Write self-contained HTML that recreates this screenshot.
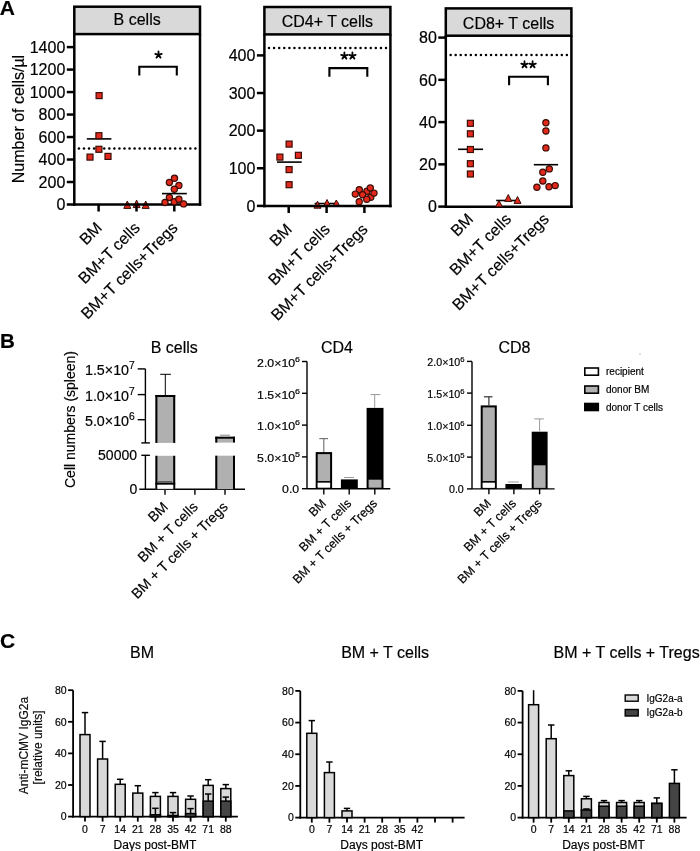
<!DOCTYPE html>
<html><head><meta charset="utf-8"><style>
html,body{margin:0;padding:0;background:#fff;width:700px;height:851px;overflow:hidden}
svg{display:block;will-change:transform}
text{font-family:"Liberation Sans", sans-serif;stroke:#000;stroke-width:0.18px}
</style></head><body>
<svg width="700" height="851" viewBox="0 0 700 851">
<rect x="0" y="0" width="700" height="851" fill="#fff"/>
<text x="-0.2" y="15.2" font-size="21" text-anchor="start" font-weight="bold" fill="#000">A</text>
<text x="24" y="119" font-size="16" text-anchor="middle" font-weight="normal" fill="#000" transform="rotate(-90 24 119)">Number of cells/µl</text>
<polygon points="127.3,201 123.8,208.4 130.8,208.4" fill="#e2291c" stroke="#3a0d05" stroke-width="1" stroke-linejoin="miter"/>
<polygon points="136.6,200.1 133.1,207.6 140.1,207.6" fill="#e2291c" stroke="#3a0d05" stroke-width="1" stroke-linejoin="miter"/>
<polygon points="145.7,201 142.2,208.4 149.2,208.4" fill="#e2291c" stroke="#3a0d05" stroke-width="1" stroke-linejoin="miter"/>
<rect x="74.3" y="6.7" width="125.7" height="27.400000000000002" fill="#d9d9d9" stroke="#000" stroke-width="2.5"/>
<text x="137.15" y="25.200000000000003" font-size="16" text-anchor="middle" font-weight="normal" fill="#000">B cells</text>
<line x1="74.3" y1="34.1" x2="74.3" y2="205.75" stroke="#000" stroke-width="2.5" stroke-linecap="butt"/>
<line x1="200" y1="34.1" x2="200" y2="205.75" stroke="#000" stroke-width="2.5" stroke-linecap="butt"/>
<line x1="73.05" y1="204.5" x2="201.25" y2="204.5" stroke="#000" stroke-width="2.5" stroke-linecap="butt"/>
<line x1="66.8" y1="204.5" x2="74.3" y2="204.5" stroke="#000" stroke-width="2.5" stroke-linecap="butt"/>
<text x="65.3" y="210.2" font-size="16" text-anchor="end" font-weight="normal" fill="#000">0</text>
<line x1="66.8" y1="182.014" x2="74.3" y2="182.014" stroke="#000" stroke-width="2.5" stroke-linecap="butt"/>
<text x="65.3" y="187.714" font-size="16" text-anchor="end" font-weight="normal" fill="#000">200</text>
<line x1="66.8" y1="159.528" x2="74.3" y2="159.528" stroke="#000" stroke-width="2.5" stroke-linecap="butt"/>
<text x="65.3" y="165.22799999999998" font-size="16" text-anchor="end" font-weight="normal" fill="#000">400</text>
<line x1="66.8" y1="137.042" x2="74.3" y2="137.042" stroke="#000" stroke-width="2.5" stroke-linecap="butt"/>
<text x="65.3" y="142.742" font-size="16" text-anchor="end" font-weight="normal" fill="#000">600</text>
<line x1="66.8" y1="114.556" x2="74.3" y2="114.556" stroke="#000" stroke-width="2.5" stroke-linecap="butt"/>
<text x="65.3" y="120.256" font-size="16" text-anchor="end" font-weight="normal" fill="#000">800</text>
<line x1="66.8" y1="92.07" x2="74.3" y2="92.07" stroke="#000" stroke-width="2.5" stroke-linecap="butt"/>
<text x="65.3" y="97.77" font-size="16" text-anchor="end" font-weight="normal" fill="#000">1000</text>
<line x1="66.8" y1="69.584" x2="74.3" y2="69.584" stroke="#000" stroke-width="2.5" stroke-linecap="butt"/>
<text x="65.3" y="75.284" font-size="16" text-anchor="end" font-weight="normal" fill="#000">1200</text>
<line x1="66.8" y1="47.097999999999985" x2="74.3" y2="47.097999999999985" stroke="#000" stroke-width="2.5" stroke-linecap="butt"/>
<text x="65.3" y="52.79799999999999" font-size="16" text-anchor="end" font-weight="normal" fill="#000">1400</text>
<line x1="98.6" y1="204.5" x2="98.6" y2="211.5" stroke="#000" stroke-width="2.5" stroke-linecap="butt"/>
<line x1="136.5" y1="204.5" x2="136.5" y2="211.5" stroke="#000" stroke-width="2.5" stroke-linecap="butt"/>
<line x1="174.3" y1="204.5" x2="174.3" y2="211.5" stroke="#000" stroke-width="2.5" stroke-linecap="butt"/>
<text x="103.0" y="228.8" font-size="16" text-anchor="end" font-weight="normal" fill="#000" transform="rotate(-45 103.0 228.8)">BM</text>
<text x="140.89999999999998" y="228.8" font-size="16" text-anchor="end" font-weight="normal" fill="#000" transform="rotate(-45 140.89999999999998 228.8)">BM+T cells</text>
<text x="178.7" y="228.8" font-size="16" text-anchor="end" font-weight="normal" fill="#000" transform="rotate(-45 178.7 228.8)">BM+T cells+Tregs</text>
<circle cx="78.90" cy="148.6" r="1.25" fill="#000"/>
<circle cx="83.97" cy="148.6" r="1.25" fill="#000"/>
<circle cx="89.03" cy="148.6" r="1.25" fill="#000"/>
<circle cx="94.10" cy="148.6" r="1.25" fill="#000"/>
<circle cx="99.16" cy="148.6" r="1.25" fill="#000"/>
<circle cx="104.23" cy="148.6" r="1.25" fill="#000"/>
<circle cx="109.29" cy="148.6" r="1.25" fill="#000"/>
<circle cx="114.36" cy="148.6" r="1.25" fill="#000"/>
<circle cx="119.42" cy="148.6" r="1.25" fill="#000"/>
<circle cx="124.49" cy="148.6" r="1.25" fill="#000"/>
<circle cx="129.55" cy="148.6" r="1.25" fill="#000"/>
<circle cx="134.62" cy="148.6" r="1.25" fill="#000"/>
<circle cx="139.68" cy="148.6" r="1.25" fill="#000"/>
<circle cx="144.75" cy="148.6" r="1.25" fill="#000"/>
<circle cx="149.81" cy="148.6" r="1.25" fill="#000"/>
<circle cx="154.88" cy="148.6" r="1.25" fill="#000"/>
<circle cx="159.94" cy="148.6" r="1.25" fill="#000"/>
<circle cx="165.01" cy="148.6" r="1.25" fill="#000"/>
<circle cx="170.07" cy="148.6" r="1.25" fill="#000"/>
<circle cx="175.14" cy="148.6" r="1.25" fill="#000"/>
<circle cx="180.20" cy="148.6" r="1.25" fill="#000"/>
<circle cx="185.27" cy="148.6" r="1.25" fill="#000"/>
<circle cx="190.33" cy="148.6" r="1.25" fill="#000"/>
<circle cx="195.40" cy="148.6" r="1.25" fill="#000"/>
<line x1="86.8" y1="138.9" x2="111.4" y2="138.9" stroke="#000" stroke-width="1.6" stroke-linecap="butt"/>
<rect x="96.1" y="92.6" width="6.0" height="6.0" fill="#e2291c" stroke="#3a0d05" stroke-width="1.2"/>
<rect x="95.9" y="132.7" width="6.0" height="6.0" fill="#e2291c" stroke="#3a0d05" stroke-width="1.2"/>
<rect x="95.9" y="146.3" width="6.0" height="6.0" fill="#e2291c" stroke="#3a0d05" stroke-width="1.2"/>
<rect x="87.0" y="154.1" width="6.0" height="6.0" fill="#e2291c" stroke="#3a0d05" stroke-width="1.2"/>
<rect x="105.0" y="153.4" width="6.0" height="6.0" fill="#e2291c" stroke="#3a0d05" stroke-width="1.2"/>
<circle cx="174.5" cy="178.2" r="3.1" fill="#e2291c" stroke="#3a0d05" stroke-width="1.2"/>
<circle cx="169.4" cy="182.5" r="3.1" fill="#e2291c" stroke="#3a0d05" stroke-width="1.2"/>
<circle cx="178.9" cy="185.4" r="3.1" fill="#e2291c" stroke="#3a0d05" stroke-width="1.2"/>
<circle cx="174.3" cy="189.3" r="3.1" fill="#e2291c" stroke="#3a0d05" stroke-width="1.2"/>
<circle cx="169.4" cy="197.5" r="3.1" fill="#e2291c" stroke="#3a0d05" stroke-width="1.2"/>
<circle cx="165" cy="202.5" r="3.1" fill="#e2291c" stroke="#3a0d05" stroke-width="1.2"/>
<circle cx="174.3" cy="201.8" r="3.1" fill="#e2291c" stroke="#3a0d05" stroke-width="1.2"/>
<circle cx="178.9" cy="199.3" r="3.1" fill="#e2291c" stroke="#3a0d05" stroke-width="1.2"/>
<circle cx="183.6" cy="203.9" r="3.1" fill="#e2291c" stroke="#3a0d05" stroke-width="1.2"/>
<line x1="162" y1="193.6" x2="186.8" y2="193.6" stroke="#000" stroke-width="1.6" stroke-linecap="butt"/>
<polyline points="139.3,75.6 139.3,66.7 176.8,66.7 176.8,75.6" fill="none" stroke="#000" stroke-width="2.1"/>
<path d="M158.50,54.90L158.50,51.50M158.50,54.90L161.73,53.85M158.50,54.90L160.50,57.65M158.50,54.90L156.50,57.65M158.50,54.90L155.27,53.85" stroke="#000" stroke-width="1.8" stroke-linecap="round" fill="none"/>
<line x1="314.6" y1="203.5" x2="338.6" y2="203.5" stroke="#000" stroke-width="1.5" stroke-linecap="butt"/>
<polygon points="317.5,201.2 314.0,208.2 321.0,208.2" fill="#e2291c" stroke="#3a0d05" stroke-width="1" stroke-linejoin="miter"/>
<polygon points="327,199.5 323.5,206.3 330.5,206.3" fill="#e2291c" stroke="#3a0d05" stroke-width="1" stroke-linejoin="miter"/>
<polygon points="336.3,200 332.8,206.3 339.8,206.3" fill="#e2291c" stroke="#3a0d05" stroke-width="1" stroke-linejoin="miter"/>
<rect x="264.4" y="7" width="126.0" height="27.4" fill="#d9d9d9" stroke="#000" stroke-width="2.5"/>
<text x="327.4" y="26.5" font-size="16" text-anchor="middle" font-weight="normal" fill="#000">CD4+ T cells</text>
<line x1="264.4" y1="34.4" x2="264.4" y2="207.25" stroke="#000" stroke-width="2.5" stroke-linecap="butt"/>
<line x1="390.4" y1="34.4" x2="390.4" y2="207.25" stroke="#000" stroke-width="2.5" stroke-linecap="butt"/>
<line x1="263.15" y1="206" x2="391.65" y2="206" stroke="#000" stroke-width="2.5" stroke-linecap="butt"/>
<line x1="256.9" y1="205.9" x2="264.4" y2="205.9" stroke="#000" stroke-width="2.5" stroke-linecap="butt"/>
<text x="255.39999999999998" y="211.6" font-size="16" text-anchor="end" font-weight="normal" fill="#000">0</text>
<line x1="256.9" y1="168.275" x2="264.4" y2="168.275" stroke="#000" stroke-width="2.5" stroke-linecap="butt"/>
<text x="255.39999999999998" y="173.975" font-size="16" text-anchor="end" font-weight="normal" fill="#000">100</text>
<line x1="256.9" y1="130.65" x2="264.4" y2="130.65" stroke="#000" stroke-width="2.5" stroke-linecap="butt"/>
<text x="255.39999999999998" y="136.35" font-size="16" text-anchor="end" font-weight="normal" fill="#000">200</text>
<line x1="256.9" y1="93.025" x2="264.4" y2="93.025" stroke="#000" stroke-width="2.5" stroke-linecap="butt"/>
<text x="255.39999999999998" y="98.72500000000001" font-size="16" text-anchor="end" font-weight="normal" fill="#000">300</text>
<line x1="256.9" y1="55.400000000000006" x2="264.4" y2="55.400000000000006" stroke="#000" stroke-width="2.5" stroke-linecap="butt"/>
<text x="255.39999999999998" y="61.10000000000001" font-size="16" text-anchor="end" font-weight="normal" fill="#000">400</text>
<line x1="288.7" y1="206" x2="288.7" y2="213" stroke="#000" stroke-width="2.5" stroke-linecap="butt"/>
<line x1="326.59999999999997" y1="206" x2="326.59999999999997" y2="213" stroke="#000" stroke-width="2.5" stroke-linecap="butt"/>
<line x1="364.4" y1="206" x2="364.4" y2="213" stroke="#000" stroke-width="2.5" stroke-linecap="butt"/>
<text x="292.9" y="230.3" font-size="16" text-anchor="end" font-weight="normal" fill="#000" transform="rotate(-45 292.9 230.3)">BM</text>
<text x="330.79999999999995" y="230.3" font-size="16" text-anchor="end" font-weight="normal" fill="#000" transform="rotate(-45 330.79999999999995 230.3)">BM+T cells</text>
<text x="368.59999999999997" y="230.3" font-size="16" text-anchor="end" font-weight="normal" fill="#000" transform="rotate(-45 368.59999999999997 230.3)">BM+T cells+Tregs</text>
<circle cx="269.00" cy="48" r="1.25" fill="#000"/>
<circle cx="274.09" cy="48" r="1.25" fill="#000"/>
<circle cx="279.17" cy="48" r="1.25" fill="#000"/>
<circle cx="284.26" cy="48" r="1.25" fill="#000"/>
<circle cx="289.35" cy="48" r="1.25" fill="#000"/>
<circle cx="294.43" cy="48" r="1.25" fill="#000"/>
<circle cx="299.52" cy="48" r="1.25" fill="#000"/>
<circle cx="304.61" cy="48" r="1.25" fill="#000"/>
<circle cx="309.70" cy="48" r="1.25" fill="#000"/>
<circle cx="314.78" cy="48" r="1.25" fill="#000"/>
<circle cx="319.87" cy="48" r="1.25" fill="#000"/>
<circle cx="324.96" cy="48" r="1.25" fill="#000"/>
<circle cx="330.04" cy="48" r="1.25" fill="#000"/>
<circle cx="335.13" cy="48" r="1.25" fill="#000"/>
<circle cx="340.22" cy="48" r="1.25" fill="#000"/>
<circle cx="345.30" cy="48" r="1.25" fill="#000"/>
<circle cx="350.39" cy="48" r="1.25" fill="#000"/>
<circle cx="355.48" cy="48" r="1.25" fill="#000"/>
<circle cx="360.57" cy="48" r="1.25" fill="#000"/>
<circle cx="365.65" cy="48" r="1.25" fill="#000"/>
<circle cx="370.74" cy="48" r="1.25" fill="#000"/>
<circle cx="375.83" cy="48" r="1.25" fill="#000"/>
<circle cx="380.91" cy="48" r="1.25" fill="#000"/>
<circle cx="386.00" cy="48" r="1.25" fill="#000"/>
<line x1="277" y1="162.1" x2="301.7" y2="162.1" stroke="#000" stroke-width="1.6" stroke-linecap="butt"/>
<rect x="286.1" y="141.1" width="6.0" height="6.0" fill="#e2291c" stroke="#3a0d05" stroke-width="1.2"/>
<rect x="276.9" y="154.1" width="6.0" height="6.0" fill="#e2291c" stroke="#3a0d05" stroke-width="1.2"/>
<rect x="295.4" y="152.3" width="6.0" height="6.0" fill="#e2291c" stroke="#3a0d05" stroke-width="1.2"/>
<rect x="286.1" y="166.6" width="6.0" height="6.0" fill="#e2291c" stroke="#3a0d05" stroke-width="1.2"/>
<rect x="286.1" y="181.7" width="6.0" height="6.0" fill="#e2291c" stroke="#3a0d05" stroke-width="1.2"/>
<circle cx="366.9" cy="191.2" r="3.1" fill="#e2291c" stroke="#3a0d05" stroke-width="1.2"/>
<circle cx="370.8" cy="197.2" r="3.1" fill="#e2291c" stroke="#3a0d05" stroke-width="1.2"/>
<circle cx="374" cy="193.1" r="3.1" fill="#e2291c" stroke="#3a0d05" stroke-width="1.2"/>
<circle cx="370.3" cy="188" r="3.1" fill="#e2291c" stroke="#3a0d05" stroke-width="1.2"/>
<circle cx="359.3" cy="189.7" r="3.1" fill="#e2291c" stroke="#3a0d05" stroke-width="1.2"/>
<circle cx="362.6" cy="194.8" r="3.1" fill="#e2291c" stroke="#3a0d05" stroke-width="1.2"/>
<circle cx="355.3" cy="194.1" r="3.1" fill="#e2291c" stroke="#3a0d05" stroke-width="1.2"/>
<circle cx="366.7" cy="199.2" r="3.1" fill="#e2291c" stroke="#3a0d05" stroke-width="1.2"/>
<circle cx="359.2" cy="201.8" r="3.1" fill="#e2291c" stroke="#3a0d05" stroke-width="1.2"/>
<polyline points="329.4,76.8 329.4,68.1 367.3,68.1 367.3,76.8" fill="none" stroke="#000" stroke-width="2.1"/>
<path d="M344.40,55.90L344.40,52.50M344.40,55.90L347.63,54.85M344.40,55.90L346.40,58.65M344.40,55.90L342.40,58.65M344.40,55.90L341.17,54.85" stroke="#000" stroke-width="1.8" stroke-linecap="round" fill="none"/>
<path d="M352.40,55.90L352.40,52.50M352.40,55.90L355.63,54.85M352.40,55.90L354.40,58.65M352.40,55.90L350.40,58.65M352.40,55.90L349.17,54.85" stroke="#000" stroke-width="1.8" stroke-linecap="round" fill="none"/>
<rect x="445.8" y="8.4" width="125.59999999999997" height="27.300000000000004" fill="#d9d9d9" stroke="#000" stroke-width="2.5"/>
<text x="508.6" y="29.050000000000004" font-size="16" text-anchor="middle" font-weight="normal" fill="#000">CD8+ T cells</text>
<line x1="445.8" y1="35.7" x2="445.8" y2="207.95" stroke="#000" stroke-width="2.5" stroke-linecap="butt"/>
<line x1="571.4" y1="35.7" x2="571.4" y2="207.95" stroke="#000" stroke-width="2.5" stroke-linecap="butt"/>
<line x1="444.55" y1="206.7" x2="572.65" y2="206.7" stroke="#000" stroke-width="2.5" stroke-linecap="butt"/>
<line x1="438.3" y1="206.6" x2="445.8" y2="206.6" stroke="#000" stroke-width="2.5" stroke-linecap="butt"/>
<text x="436.8" y="212.29999999999998" font-size="16" text-anchor="end" font-weight="normal" fill="#000">0</text>
<line x1="438.3" y1="164.35" x2="445.8" y2="164.35" stroke="#000" stroke-width="2.5" stroke-linecap="butt"/>
<text x="436.8" y="170.04999999999998" font-size="16" text-anchor="end" font-weight="normal" fill="#000">20</text>
<line x1="438.3" y1="122.1" x2="445.8" y2="122.1" stroke="#000" stroke-width="2.5" stroke-linecap="butt"/>
<text x="436.8" y="127.8" font-size="16" text-anchor="end" font-weight="normal" fill="#000">40</text>
<line x1="438.3" y1="79.85" x2="445.8" y2="79.85" stroke="#000" stroke-width="2.5" stroke-linecap="butt"/>
<text x="436.8" y="85.55" font-size="16" text-anchor="end" font-weight="normal" fill="#000">60</text>
<line x1="438.3" y1="37.599999999999994" x2="445.8" y2="37.599999999999994" stroke="#000" stroke-width="2.5" stroke-linecap="butt"/>
<text x="436.8" y="43.3" font-size="16" text-anchor="end" font-weight="normal" fill="#000">80</text>
<text x="474.3" y="220.2" font-size="16" text-anchor="end" font-weight="normal" fill="#000" transform="rotate(-45 474.3 220.2)">BM</text>
<text x="512.2" y="220.2" font-size="16" text-anchor="end" font-weight="normal" fill="#000" transform="rotate(-45 512.2 220.2)">BM+T cells</text>
<text x="550.0" y="220.2" font-size="16" text-anchor="end" font-weight="normal" fill="#000" transform="rotate(-45 550.0 220.2)">BM+T cells+Tregs</text>
<circle cx="450.60" cy="54.9" r="1.25" fill="#000"/>
<circle cx="455.66" cy="54.9" r="1.25" fill="#000"/>
<circle cx="460.71" cy="54.9" r="1.25" fill="#000"/>
<circle cx="465.77" cy="54.9" r="1.25" fill="#000"/>
<circle cx="470.83" cy="54.9" r="1.25" fill="#000"/>
<circle cx="475.88" cy="54.9" r="1.25" fill="#000"/>
<circle cx="480.94" cy="54.9" r="1.25" fill="#000"/>
<circle cx="486.00" cy="54.9" r="1.25" fill="#000"/>
<circle cx="491.05" cy="54.9" r="1.25" fill="#000"/>
<circle cx="496.11" cy="54.9" r="1.25" fill="#000"/>
<circle cx="501.17" cy="54.9" r="1.25" fill="#000"/>
<circle cx="506.22" cy="54.9" r="1.25" fill="#000"/>
<circle cx="511.28" cy="54.9" r="1.25" fill="#000"/>
<circle cx="516.33" cy="54.9" r="1.25" fill="#000"/>
<circle cx="521.39" cy="54.9" r="1.25" fill="#000"/>
<circle cx="526.45" cy="54.9" r="1.25" fill="#000"/>
<circle cx="531.50" cy="54.9" r="1.25" fill="#000"/>
<circle cx="536.56" cy="54.9" r="1.25" fill="#000"/>
<circle cx="541.62" cy="54.9" r="1.25" fill="#000"/>
<circle cx="546.67" cy="54.9" r="1.25" fill="#000"/>
<circle cx="551.73" cy="54.9" r="1.25" fill="#000"/>
<circle cx="556.79" cy="54.9" r="1.25" fill="#000"/>
<circle cx="561.84" cy="54.9" r="1.25" fill="#000"/>
<circle cx="566.90" cy="54.9" r="1.25" fill="#000"/>
<line x1="458.1" y1="149.3" x2="483.1" y2="149.3" stroke="#000" stroke-width="1.6" stroke-linecap="butt"/>
<rect x="467.4" y="120.3" width="6.0" height="6.0" fill="#e2291c" stroke="#3a0d05" stroke-width="1.2"/>
<rect x="467.4" y="130.8" width="6.0" height="6.0" fill="#e2291c" stroke="#3a0d05" stroke-width="1.2"/>
<rect x="467.4" y="146.5" width="6.0" height="6.0" fill="#e2291c" stroke="#3a0d05" stroke-width="1.2"/>
<rect x="467.4" y="160.7" width="6.0" height="6.0" fill="#e2291c" stroke="#3a0d05" stroke-width="1.2"/>
<rect x="467.4" y="171.0" width="6.0" height="6.0" fill="#e2291c" stroke="#3a0d05" stroke-width="1.2"/>
<line x1="496.2" y1="200.5" x2="519" y2="200.5" stroke="#000" stroke-width="1.6" stroke-linecap="butt"/>
<polygon points="499,200.6 495.5,206.8 502.5,206.8" fill="#e2291c" stroke="#3a0d05" stroke-width="1" stroke-linejoin="miter"/>
<polygon points="508.25,194.5 504.75,201.4 511.75,201.4" fill="#e2291c" stroke="#3a0d05" stroke-width="1" stroke-linejoin="miter"/>
<polygon points="517.5,196.5 514.0,203.4 521.0,203.4" fill="#e2291c" stroke="#3a0d05" stroke-width="1" stroke-linejoin="miter"/>
<circle cx="545.9" cy="122.7" r="3.1" fill="#e2291c" stroke="#3a0d05" stroke-width="1.2"/>
<circle cx="545.9" cy="131" r="3.1" fill="#e2291c" stroke="#3a0d05" stroke-width="1.2"/>
<circle cx="545.9" cy="147.9" r="3.1" fill="#e2291c" stroke="#3a0d05" stroke-width="1.2"/>
<circle cx="549.3" cy="168.9" r="3.1" fill="#e2291c" stroke="#3a0d05" stroke-width="1.2"/>
<circle cx="542.8" cy="172.3" r="3.1" fill="#e2291c" stroke="#3a0d05" stroke-width="1.2"/>
<circle cx="542.8" cy="181" r="3.1" fill="#e2291c" stroke="#3a0d05" stroke-width="1.2"/>
<circle cx="536.9" cy="187.2" r="3.1" fill="#e2291c" stroke="#3a0d05" stroke-width="1.2"/>
<circle cx="549" cy="186.8" r="3.1" fill="#e2291c" stroke="#3a0d05" stroke-width="1.2"/>
<circle cx="555.2" cy="185.6" r="3.1" fill="#e2291c" stroke="#3a0d05" stroke-width="1.2"/>
<line x1="533.8" y1="164.7" x2="558.1" y2="164.7" stroke="#000" stroke-width="1.6" stroke-linecap="butt"/>
<polyline points="509.1,85.3 509.1,76.8 547.9,76.8 547.9,85.3" fill="none" stroke="#000" stroke-width="2.1"/>
<path d="M524.50,64.60L524.50,61.20M524.50,64.60L527.73,63.55M524.50,64.60L526.50,67.35M524.50,64.60L522.50,67.35M524.50,64.60L521.27,63.55" stroke="#000" stroke-width="1.8" stroke-linecap="round" fill="none"/>
<path d="M532.60,64.60L532.60,61.20M532.60,64.60L535.83,63.55M532.60,64.60L534.60,67.35M532.60,64.60L530.60,67.35M532.60,64.60L529.37,63.55" stroke="#000" stroke-width="1.8" stroke-linecap="round" fill="none"/>
<text x="0" y="347.7" font-size="20.5" text-anchor="start" font-weight="bold" fill="#000">B</text>
<text x="75.3" y="419.5" font-size="14" text-anchor="middle" font-weight="normal" fill="#000" transform="rotate(-90 75.3 419.5)">Cell numbers (spleen)</text>
<text x="174.3" y="352.9" font-size="16" text-anchor="middle" font-weight="normal" fill="#000">B cells</text>
<line x1="145.4" y1="368.9" x2="145.4" y2="442.9" stroke="#000" stroke-width="1.4" stroke-linecap="butt"/>
<line x1="145.4" y1="455.3" x2="145.4" y2="489.2" stroke="#000" stroke-width="1.4" stroke-linecap="butt"/>
<line x1="141.3" y1="442.9" x2="149.9" y2="442.9" stroke="#000" stroke-width="1.4" stroke-linecap="butt"/>
<line x1="141.3" y1="455.3" x2="149.9" y2="455.3" stroke="#000" stroke-width="1.4" stroke-linecap="butt"/>
<line x1="137.7" y1="368.9" x2="145.4" y2="368.9" stroke="#000" stroke-width="1.4" stroke-linecap="butt"/>
<text transform="translate(134.8 375.09999999999997) scale(1.0 1)" x="0" y="0" font-size="14.3" text-anchor="end" fill="#000">1.5×10<tspan font-size="10.30" dy="-6.29">7</tspan></text>
<line x1="137.7" y1="394.6" x2="145.4" y2="394.6" stroke="#000" stroke-width="1.4" stroke-linecap="butt"/>
<text transform="translate(134.8 400.8) scale(1.0 1)" x="0" y="0" font-size="14.3" text-anchor="end" fill="#000">1.0×10<tspan font-size="10.30" dy="-6.29">7</tspan></text>
<line x1="137.7" y1="419.7" x2="145.4" y2="419.7" stroke="#000" stroke-width="1.4" stroke-linecap="butt"/>
<text transform="translate(134.8 425.9) scale(1.0 1)" x="0" y="0" font-size="14.3" text-anchor="end" fill="#000">5.0×10<tspan font-size="10.30" dy="-6.29">6</tspan></text>
<text x="137" y="460.2" font-size="14" text-anchor="end" font-weight="normal" fill="#000">50000</text>
<text x="137.3" y="494.09999999999997" font-size="14" text-anchor="end" font-weight="normal" fill="#000">0</text>
<line x1="139.3" y1="489.2" x2="245" y2="489.2" stroke="#000" stroke-width="1.4" stroke-linecap="butt"/>
<line x1="165" y1="489.2" x2="165" y2="494.8" stroke="#000" stroke-width="1.4" stroke-linecap="butt"/>
<line x1="194.9" y1="489.2" x2="194.9" y2="494.8" stroke="#000" stroke-width="1.4" stroke-linecap="butt"/>
<line x1="225" y1="489.2" x2="225" y2="494.8" stroke="#000" stroke-width="1.4" stroke-linecap="butt"/>
<rect x="155.4" y="395" width="19.799999999999983" height="47.89999999999998" fill="#b0b0b1" stroke="none" stroke-width="0"/>
<rect x="155.4" y="455.8" width="19.799999999999983" height="33.39999999999998" fill="#b0b0b1" stroke="none" stroke-width="0"/>
<line x1="156.4" y1="395" x2="156.4" y2="442.9" stroke="#000" stroke-width="2" stroke-linecap="butt"/>
<line x1="174.2" y1="395" x2="174.2" y2="442.9" stroke="#000" stroke-width="2" stroke-linecap="butt"/>
<line x1="156.4" y1="455.8" x2="156.4" y2="489.2" stroke="#000" stroke-width="2" stroke-linecap="butt"/>
<line x1="174.2" y1="455.8" x2="174.2" y2="489.2" stroke="#000" stroke-width="2" stroke-linecap="butt"/>
<line x1="155.4" y1="396" x2="175.2" y2="396" stroke="#000" stroke-width="2" stroke-linecap="butt"/>
<rect x="157.4" y="484.6" width="15.8" height="4" fill="#fff" stroke="none" stroke-width="0"/>
<line x1="155.4" y1="483.6" x2="175.2" y2="483.6" stroke="#000" stroke-width="2" stroke-linecap="butt"/>
<line x1="158" y1="481.6" x2="172" y2="481.6" stroke="#555" stroke-width="1" stroke-linecap="butt"/>
<line x1="165.3" y1="374.3" x2="165.3" y2="395" stroke="#000" stroke-width="1" stroke-linecap="butt"/>
<line x1="160.2" y1="374.3" x2="170.9" y2="374.3" stroke="#000" stroke-width="1" stroke-linecap="butt"/>
<rect x="215.3" y="436.7" width="19.69999999999999" height="5.900000000000034" fill="#b0b0b1" stroke="none" stroke-width="0"/>
<rect x="215.3" y="455.7" width="19.69999999999999" height="33.5" fill="#b0b0b1" stroke="none" stroke-width="0"/>
<line x1="216.3" y1="436.7" x2="216.3" y2="442.6" stroke="#000" stroke-width="2" stroke-linecap="butt"/>
<line x1="234" y1="436.7" x2="234" y2="442.6" stroke="#000" stroke-width="2" stroke-linecap="butt"/>
<line x1="216.3" y1="455.7" x2="216.3" y2="489.2" stroke="#000" stroke-width="2" stroke-linecap="butt"/>
<line x1="234" y1="455.7" x2="234" y2="489.2" stroke="#000" stroke-width="2" stroke-linecap="butt"/>
<line x1="215.3" y1="437.7" x2="235" y2="437.7" stroke="#000" stroke-width="2" stroke-linecap="butt"/>
<line x1="220" y1="435.2" x2="230" y2="435.2" stroke="#888" stroke-width="1" stroke-linecap="butt"/>
<text x="168.8" y="507.8" font-size="14.2" text-anchor="end" font-weight="normal" fill="#000" transform="rotate(-45 168.8 507.8)">BM</text>
<text x="198.70000000000002" y="507.8" font-size="14.2" text-anchor="end" font-weight="normal" fill="#000" transform="rotate(-45 198.70000000000002 507.8)">BM + T cells</text>
<text x="228.8" y="507.8" font-size="14.2" text-anchor="end" font-weight="normal" fill="#000" transform="rotate(-45 228.8 507.8)">BM + T cells + Tregs</text>
<text x="337" y="352.9" font-size="16" text-anchor="middle" font-weight="normal" fill="#000">CD4</text>
<line x1="307" y1="361.5" x2="307" y2="488.7" stroke="#000" stroke-width="1.4" stroke-linecap="butt"/>
<line x1="302" y1="488.7" x2="307" y2="488.7" stroke="#000" stroke-width="1.4" stroke-linecap="butt"/>
<text transform="translate(299.2 492.59999999999997) scale(1.12 1)" x="0" y="0" font-size="11" text-anchor="end" fill="#000">0.0</text>
<line x1="302" y1="456.9" x2="307" y2="456.9" stroke="#000" stroke-width="1.4" stroke-linecap="butt"/>
<text transform="translate(300 462.09999999999997) scale(1.12 1)" x="0" y="0" font-size="11" text-anchor="end" fill="#000">5.0×10<tspan font-size="7.92" dy="-4.84">5</tspan></text>
<line x1="302" y1="425.1" x2="307" y2="425.1" stroke="#000" stroke-width="1.4" stroke-linecap="butt"/>
<text transform="translate(300 430.3) scale(1.12 1)" x="0" y="0" font-size="11" text-anchor="end" fill="#000">1.0×10<tspan font-size="7.92" dy="-4.84">6</tspan></text>
<line x1="302" y1="393.3" x2="307" y2="393.3" stroke="#000" stroke-width="1.4" stroke-linecap="butt"/>
<text transform="translate(300 398.5) scale(1.12 1)" x="0" y="0" font-size="11" text-anchor="end" fill="#000">1.5×10<tspan font-size="7.92" dy="-4.84">6</tspan></text>
<line x1="302" y1="361.5" x2="307" y2="361.5" stroke="#000" stroke-width="1.4" stroke-linecap="butt"/>
<text transform="translate(300 366.7) scale(1.12 1)" x="0" y="0" font-size="11" text-anchor="end" fill="#000">2.0×10<tspan font-size="7.92" dy="-4.84">6</tspan></text>
<line x1="307" y1="488.7" x2="390.3" y2="488.7" stroke="#000" stroke-width="1.4" stroke-linecap="butt"/>
<line x1="323.8" y1="488.7" x2="323.8" y2="494.5" stroke="#000" stroke-width="1.4" stroke-linecap="butt"/>
<line x1="349.2" y1="488.7" x2="349.2" y2="494.5" stroke="#000" stroke-width="1.4" stroke-linecap="butt"/>
<line x1="374.8" y1="488.7" x2="374.8" y2="494.5" stroke="#000" stroke-width="1.4" stroke-linecap="butt"/>
<rect x="316.7" y="453.1" width="14.4" height="34.6" fill="#b0b0b1" stroke="#000" stroke-width="2"/>
<rect x="317.7" y="482.6" width="12.4" height="5.1" fill="#fff" stroke="none" stroke-width="0"/>
<line x1="316.7" y1="481.8" x2="331.1" y2="481.8" stroke="#000" stroke-width="1.5" stroke-linecap="butt"/>
<line x1="323.8" y1="438.6" x2="323.8" y2="452" stroke="#777" stroke-width="1.2" stroke-linecap="butt"/>
<line x1="319.3" y1="438.6" x2="328" y2="438.6" stroke="#777" stroke-width="1.2" stroke-linecap="butt"/>
<rect x="340.9" y="479.4" width="16.9" height="9.3" fill="#000" stroke="none" stroke-width="0"/>
<line x1="344" y1="477.5" x2="354" y2="477.5" stroke="#999" stroke-width="1" stroke-linecap="butt"/>
<rect x="366.6" y="407.9" width="16.9" height="80.8" fill="#000" stroke="none" stroke-width="0"/>
<rect x="368.6" y="479.7" width="12.9" height="8" fill="#b0b0b1" stroke="none" stroke-width="0"/>
<line x1="374.7" y1="394.6" x2="374.7" y2="407.9" stroke="#999" stroke-width="1" stroke-linecap="butt"/>
<line x1="370.4" y1="394.6" x2="380.3" y2="394.6" stroke="#999" stroke-width="1" stroke-linecap="butt"/>
<text x="326.8" y="504.2" font-size="12.4" text-anchor="end" font-weight="normal" fill="#000" transform="rotate(-45 326.8 504.2)">BM</text>
<text x="352.2" y="504.2" font-size="12.4" text-anchor="end" font-weight="normal" fill="#000" transform="rotate(-45 352.2 504.2)">BM + T cells</text>
<text x="377.8" y="504.2" font-size="12.4" text-anchor="end" font-weight="normal" fill="#000" transform="rotate(-45 377.8 504.2)">BM + T cells + Tregs</text>
<text x="514.4" y="352.9" font-size="16" text-anchor="middle" font-weight="normal" fill="#000">CD8</text>
<line x1="472" y1="361.4" x2="472" y2="488.9" stroke="#000" stroke-width="1.4" stroke-linecap="butt"/>
<line x1="467" y1="488.9" x2="472" y2="488.9" stroke="#000" stroke-width="1.4" stroke-linecap="butt"/>
<text transform="translate(463.8 492.5) scale(1.07 1)" x="0" y="0" font-size="10" text-anchor="end" fill="#000">0.0</text>
<line x1="467" y1="457.1" x2="472" y2="457.1" stroke="#000" stroke-width="1.4" stroke-linecap="butt"/>
<text transform="translate(464.6 462.00000000000006) scale(1.07 1)" x="0" y="0" font-size="10" text-anchor="end" fill="#000">5.0×10<tspan font-size="7.20" dy="-4.40">5</tspan></text>
<line x1="467" y1="425.3" x2="472" y2="425.3" stroke="#000" stroke-width="1.4" stroke-linecap="butt"/>
<text transform="translate(464.6 430.20000000000005) scale(1.07 1)" x="0" y="0" font-size="10" text-anchor="end" fill="#000">1.0×10<tspan font-size="7.20" dy="-4.40">6</tspan></text>
<line x1="467" y1="393.1" x2="472" y2="393.1" stroke="#000" stroke-width="1.4" stroke-linecap="butt"/>
<text transform="translate(464.6 398.00000000000006) scale(1.07 1)" x="0" y="0" font-size="10" text-anchor="end" fill="#000">1.5×10<tspan font-size="7.20" dy="-4.40">6</tspan></text>
<line x1="467" y1="361.4" x2="472" y2="361.4" stroke="#000" stroke-width="1.4" stroke-linecap="butt"/>
<text transform="translate(464.6 366.3) scale(1.07 1)" x="0" y="0" font-size="10" text-anchor="end" fill="#000">2.0×10<tspan font-size="7.20" dy="-4.40">6</tspan></text>
<line x1="472" y1="488.9" x2="554.6" y2="488.9" stroke="#000" stroke-width="1.4" stroke-linecap="butt"/>
<line x1="488.9" y1="488.9" x2="488.9" y2="494.3" stroke="#000" stroke-width="1.4" stroke-linecap="butt"/>
<line x1="513.9" y1="488.9" x2="513.9" y2="494.3" stroke="#000" stroke-width="1.4" stroke-linecap="butt"/>
<line x1="539.6" y1="488.9" x2="539.6" y2="494.3" stroke="#000" stroke-width="1.4" stroke-linecap="butt"/>
<rect x="481.7" y="406.4" width="14.1" height="81.5" fill="#b0b0b1" stroke="#000" stroke-width="2"/>
<rect x="482.7" y="482.8" width="12.1" height="5.1" fill="#fff" stroke="none" stroke-width="0"/>
<line x1="481.7" y1="481.8" x2="495.8" y2="481.8" stroke="#000" stroke-width="1.5" stroke-linecap="butt"/>
<line x1="488.9" y1="396.8" x2="488.9" y2="405.4" stroke="#333" stroke-width="1.2" stroke-linecap="butt"/>
<line x1="483.9" y1="396.8" x2="492.5" y2="396.8" stroke="#333" stroke-width="1.2" stroke-linecap="butt"/>
<rect x="505.4" y="484" width="16.5" height="4.9" fill="#000" stroke="none" stroke-width="0"/>
<line x1="508" y1="482" x2="519" y2="482" stroke="#999" stroke-width="1" stroke-linecap="butt"/>
<rect x="531.7" y="431.7" width="15.9" height="57.2" fill="#000" stroke="none" stroke-width="0"/>
<rect x="533.7" y="465.3" width="11.9" height="22.6" fill="#b0b0b1" stroke="none" stroke-width="0"/>
<line x1="539.6" y1="418.9" x2="539.6" y2="431.7" stroke="#999" stroke-width="1" stroke-linecap="butt"/>
<line x1="534.3" y1="418.9" x2="543.9" y2="418.9" stroke="#999" stroke-width="1" stroke-linecap="butt"/>
<text x="491.9" y="504.2" font-size="12.4" text-anchor="end" font-weight="normal" fill="#000" transform="rotate(-45 491.9 504.2)">BM</text>
<text x="516.9" y="504.2" font-size="12.4" text-anchor="end" font-weight="normal" fill="#000" transform="rotate(-45 516.9 504.2)">BM + T cells</text>
<text x="542.6" y="504.2" font-size="12.4" text-anchor="end" font-weight="normal" fill="#000" transform="rotate(-45 542.6 504.2)">BM + T cells + Tregs</text>
<circle cx="640" cy="354" r="0.6" fill="#777"/>
<rect x="584.8" y="368" width="13.6" height="7.2" fill="#fff" stroke="#000" stroke-width="1.6"/>
<rect x="584.8" y="386" width="13.6" height="7.2" fill="#b0b0b1" stroke="#000" stroke-width="1.6"/>
<rect x="584" y="402.7" width="15.1" height="8.6" fill="#000" stroke="none" stroke-width="0"/>
<text x="606" y="375.2" font-size="10" text-anchor="start" font-weight="normal" fill="#000">recipient</text>
<text x="606" y="392.8" font-size="10" text-anchor="start" font-weight="normal" fill="#000">donor BM</text>
<text x="606" y="410.5" font-size="10" text-anchor="start" font-weight="normal" fill="#000">donor T cells</text>
<text x="0" y="648.3" font-size="21" text-anchor="start" font-weight="bold" fill="#000">C</text>
<text font-size="12" fill="#111" text-anchor="middle" transform="rotate(-90 27.9 745.6)" x="27.9" y="745.6">Anti-mCMV IgG2a</text>
<text font-size="12" fill="#111" text-anchor="middle" transform="rotate(-90 41.8 747.4)" x="41.8" y="747.4">[relative units]</text>
<text x="142.1" y="658" font-size="16" text-anchor="middle" font-weight="normal" fill="#000">BM</text>
<line x1="73.1" y1="690.2" x2="73.1" y2="817.6" stroke="#000" stroke-width="1.8" stroke-linecap="butt"/>
<line x1="68.1" y1="816.6" x2="73.1" y2="816.6" stroke="#000" stroke-width="1.8" stroke-linecap="butt"/>
<text x="66.6" y="820.3000000000001" font-size="10.5" text-anchor="end" font-weight="normal" fill="#000">0</text>
<line x1="68.1" y1="785.0" x2="73.1" y2="785.0" stroke="#000" stroke-width="1.8" stroke-linecap="butt"/>
<text x="66.6" y="788.7" font-size="10.5" text-anchor="end" font-weight="normal" fill="#000">20</text>
<line x1="68.1" y1="753.4000000000001" x2="73.1" y2="753.4000000000001" stroke="#000" stroke-width="1.8" stroke-linecap="butt"/>
<text x="66.6" y="757.1000000000001" font-size="10.5" text-anchor="end" font-weight="normal" fill="#000">40</text>
<line x1="68.1" y1="721.8000000000001" x2="73.1" y2="721.8000000000001" stroke="#000" stroke-width="1.8" stroke-linecap="butt"/>
<text x="66.6" y="725.5000000000001" font-size="10.5" text-anchor="end" font-weight="normal" fill="#000">60</text>
<line x1="68.1" y1="690.2" x2="73.1" y2="690.2" stroke="#000" stroke-width="1.8" stroke-linecap="butt"/>
<text x="66.6" y="693.9000000000001" font-size="10.5" text-anchor="end" font-weight="normal" fill="#000">80</text>
<line x1="72.19999999999999" y1="816.6" x2="237.9" y2="816.6" stroke="#000" stroke-width="1.8" stroke-linecap="butt"/>
<line x1="85.0" y1="816.6" x2="85.0" y2="821.6" stroke="#000" stroke-width="1.8" stroke-linecap="butt"/>
<text x="85.0" y="832.9" font-size="10.5" text-anchor="middle" font-weight="normal" fill="#000">0</text>
<line x1="102.6" y1="816.6" x2="102.6" y2="821.6" stroke="#000" stroke-width="1.8" stroke-linecap="butt"/>
<text x="102.6" y="832.9" font-size="10.5" text-anchor="middle" font-weight="normal" fill="#000">7</text>
<line x1="120.2" y1="816.6" x2="120.2" y2="821.6" stroke="#000" stroke-width="1.8" stroke-linecap="butt"/>
<text x="120.2" y="832.9" font-size="10.5" text-anchor="middle" font-weight="normal" fill="#000">14</text>
<line x1="137.8" y1="816.6" x2="137.8" y2="821.6" stroke="#000" stroke-width="1.8" stroke-linecap="butt"/>
<text x="137.8" y="832.9" font-size="10.5" text-anchor="middle" font-weight="normal" fill="#000">21</text>
<line x1="155.4" y1="816.6" x2="155.4" y2="821.6" stroke="#000" stroke-width="1.8" stroke-linecap="butt"/>
<text x="155.4" y="832.9" font-size="10.5" text-anchor="middle" font-weight="normal" fill="#000">28</text>
<line x1="173.0" y1="816.6" x2="173.0" y2="821.6" stroke="#000" stroke-width="1.8" stroke-linecap="butt"/>
<text x="173.0" y="832.9" font-size="10.5" text-anchor="middle" font-weight="normal" fill="#000">35</text>
<line x1="190.60000000000002" y1="816.6" x2="190.60000000000002" y2="821.6" stroke="#000" stroke-width="1.8" stroke-linecap="butt"/>
<text x="190.60000000000002" y="832.9" font-size="10.5" text-anchor="middle" font-weight="normal" fill="#000">42</text>
<line x1="208.20000000000002" y1="816.6" x2="208.20000000000002" y2="821.6" stroke="#000" stroke-width="1.8" stroke-linecap="butt"/>
<text x="208.20000000000002" y="832.9" font-size="10.5" text-anchor="middle" font-weight="normal" fill="#000">71</text>
<line x1="225.8" y1="816.6" x2="225.8" y2="821.6" stroke="#000" stroke-width="1.8" stroke-linecap="butt"/>
<text x="225.8" y="832.9" font-size="10.5" text-anchor="middle" font-weight="normal" fill="#000">88</text>
<text x="154.9" y="848.5" font-size="12" text-anchor="middle" font-weight="normal" fill="#000">Days post-BMT</text>
<line x1="85.0" y1="712.6" x2="85.0" y2="734.6" stroke="#000" stroke-width="1.5" stroke-linecap="butt"/>
<line x1="81.8" y1="712.6" x2="88.2" y2="712.6" stroke="#000" stroke-width="1.5" stroke-linecap="butt"/>
<rect x="80.0" y="734.6" width="10" height="82.0" fill="#d9d9d9" stroke="#000" stroke-width="1.5"/>
<line x1="102.6" y1="741.4" x2="102.6" y2="759" stroke="#000" stroke-width="1.5" stroke-linecap="butt"/>
<line x1="99.39999999999999" y1="741.4" x2="105.8" y2="741.4" stroke="#000" stroke-width="1.5" stroke-linecap="butt"/>
<rect x="97.6" y="759" width="10" height="57.60000000000002" fill="#d9d9d9" stroke="#000" stroke-width="1.5"/>
<line x1="120.2" y1="779.3" x2="120.2" y2="784.3" stroke="#000" stroke-width="1.5" stroke-linecap="butt"/>
<line x1="117.0" y1="779.3" x2="123.4" y2="779.3" stroke="#000" stroke-width="1.5" stroke-linecap="butt"/>
<rect x="115.2" y="784.3" width="10" height="32.30000000000007" fill="#d9d9d9" stroke="#000" stroke-width="1.5"/>
<line x1="137.8" y1="785.7" x2="137.8" y2="793.1" stroke="#000" stroke-width="1.5" stroke-linecap="butt"/>
<line x1="134.60000000000002" y1="785.7" x2="141.0" y2="785.7" stroke="#000" stroke-width="1.5" stroke-linecap="butt"/>
<rect x="132.8" y="793.1" width="10" height="23.5" fill="#d9d9d9" stroke="#000" stroke-width="1.5"/>
<line x1="155.4" y1="792.6" x2="155.4" y2="796.4" stroke="#000" stroke-width="1.5" stroke-linecap="butt"/>
<line x1="152.20000000000002" y1="792.6" x2="158.6" y2="792.6" stroke="#000" stroke-width="1.5" stroke-linecap="butt"/>
<rect x="150.4" y="796.4" width="10" height="20.200000000000045" fill="#d9d9d9" stroke="#000" stroke-width="1.5"/>
<line x1="155.4" y1="808.3" x2="155.4" y2="814.8" stroke="#000" stroke-width="1.5" stroke-linecap="butt"/>
<line x1="152.20000000000002" y1="808.3" x2="158.6" y2="808.3" stroke="#000" stroke-width="1.5" stroke-linecap="butt"/>
<rect x="150.4" y="814.8" width="10" height="1.8000000000000682" fill="#454545" stroke="#000" stroke-width="1.5"/>
<line x1="173.0" y1="792.6" x2="173.0" y2="796.4" stroke="#000" stroke-width="1.5" stroke-linecap="butt"/>
<line x1="169.8" y1="792.6" x2="176.2" y2="792.6" stroke="#000" stroke-width="1.5" stroke-linecap="butt"/>
<rect x="168.0" y="796.4" width="10" height="20.200000000000045" fill="#d9d9d9" stroke="#000" stroke-width="1.5"/>
<line x1="173.0" y1="812.6" x2="173.0" y2="815.5" stroke="#000" stroke-width="1.5" stroke-linecap="butt"/>
<line x1="169.8" y1="812.6" x2="176.2" y2="812.6" stroke="#000" stroke-width="1.5" stroke-linecap="butt"/>
<rect x="168.0" y="815.5" width="10" height="1.1000000000000227" fill="#454545" stroke="#000" stroke-width="1.5"/>
<line x1="190.60000000000002" y1="796" x2="190.60000000000002" y2="799.3" stroke="#000" stroke-width="1.5" stroke-linecap="butt"/>
<line x1="187.40000000000003" y1="796" x2="193.8" y2="796" stroke="#000" stroke-width="1.5" stroke-linecap="butt"/>
<rect x="185.60000000000002" y="799.3" width="10" height="17.300000000000068" fill="#d9d9d9" stroke="#000" stroke-width="1.5"/>
<line x1="190.60000000000002" y1="808.6" x2="190.60000000000002" y2="813.6" stroke="#000" stroke-width="1.5" stroke-linecap="butt"/>
<line x1="187.40000000000003" y1="808.6" x2="193.8" y2="808.6" stroke="#000" stroke-width="1.5" stroke-linecap="butt"/>
<rect x="185.60000000000002" y="813.6" width="10" height="3.0" fill="#454545" stroke="#000" stroke-width="1.5"/>
<line x1="208.20000000000002" y1="779.7" x2="208.20000000000002" y2="785.4" stroke="#000" stroke-width="1.5" stroke-linecap="butt"/>
<line x1="205.00000000000003" y1="779.7" x2="211.4" y2="779.7" stroke="#000" stroke-width="1.5" stroke-linecap="butt"/>
<rect x="203.20000000000002" y="785.4" width="10" height="31.200000000000045" fill="#d9d9d9" stroke="#000" stroke-width="1.5"/>
<line x1="208.20000000000002" y1="794" x2="208.20000000000002" y2="801.1" stroke="#000" stroke-width="1.5" stroke-linecap="butt"/>
<line x1="205.00000000000003" y1="794" x2="211.4" y2="794" stroke="#000" stroke-width="1.5" stroke-linecap="butt"/>
<rect x="203.20000000000002" y="801.1" width="10" height="15.5" fill="#454545" stroke="#000" stroke-width="1.5"/>
<line x1="225.8" y1="784.6" x2="225.8" y2="788.6" stroke="#000" stroke-width="1.5" stroke-linecap="butt"/>
<line x1="222.60000000000002" y1="784.6" x2="229.0" y2="784.6" stroke="#000" stroke-width="1.5" stroke-linecap="butt"/>
<rect x="220.8" y="788.6" width="10" height="28.0" fill="#d9d9d9" stroke="#000" stroke-width="1.5"/>
<line x1="225.8" y1="797.1" x2="225.8" y2="801.1" stroke="#000" stroke-width="1.5" stroke-linecap="butt"/>
<line x1="222.60000000000002" y1="797.1" x2="229.0" y2="797.1" stroke="#000" stroke-width="1.5" stroke-linecap="butt"/>
<rect x="220.8" y="801.1" width="10" height="15.5" fill="#454545" stroke="#000" stroke-width="1.5"/>
<text x="385.1" y="658" font-size="16" text-anchor="middle" font-weight="normal" fill="#000">BM + T cells</text>
<line x1="300.3" y1="690.9" x2="300.3" y2="818.6" stroke="#000" stroke-width="1.8" stroke-linecap="butt"/>
<line x1="295.3" y1="817.6" x2="300.3" y2="817.6" stroke="#000" stroke-width="1.8" stroke-linecap="butt"/>
<text x="293.8" y="821.3000000000001" font-size="10.5" text-anchor="end" font-weight="normal" fill="#000">0</text>
<line x1="295.3" y1="785.925" x2="300.3" y2="785.925" stroke="#000" stroke-width="1.8" stroke-linecap="butt"/>
<text x="293.8" y="789.625" font-size="10.5" text-anchor="end" font-weight="normal" fill="#000">20</text>
<line x1="295.3" y1="754.25" x2="300.3" y2="754.25" stroke="#000" stroke-width="1.8" stroke-linecap="butt"/>
<text x="293.8" y="757.95" font-size="10.5" text-anchor="end" font-weight="normal" fill="#000">40</text>
<line x1="295.3" y1="722.575" x2="300.3" y2="722.575" stroke="#000" stroke-width="1.8" stroke-linecap="butt"/>
<text x="293.8" y="726.2750000000001" font-size="10.5" text-anchor="end" font-weight="normal" fill="#000">60</text>
<line x1="295.3" y1="690.9" x2="300.3" y2="690.9" stroke="#000" stroke-width="1.8" stroke-linecap="butt"/>
<text x="293.8" y="694.6" font-size="10.5" text-anchor="end" font-weight="normal" fill="#000">80</text>
<line x1="299.40000000000003" y1="817.6" x2="464.6" y2="817.6" stroke="#000" stroke-width="1.8" stroke-linecap="butt"/>
<line x1="311.8" y1="817.6" x2="311.8" y2="822.6" stroke="#000" stroke-width="1.8" stroke-linecap="butt"/>
<text x="311.8" y="832.9" font-size="10.5" text-anchor="middle" font-weight="normal" fill="#000">0</text>
<line x1="329.40000000000003" y1="817.6" x2="329.40000000000003" y2="822.6" stroke="#000" stroke-width="1.8" stroke-linecap="butt"/>
<text x="329.40000000000003" y="832.9" font-size="10.5" text-anchor="middle" font-weight="normal" fill="#000">7</text>
<line x1="347.0" y1="817.6" x2="347.0" y2="822.6" stroke="#000" stroke-width="1.8" stroke-linecap="butt"/>
<text x="347.0" y="832.9" font-size="10.5" text-anchor="middle" font-weight="normal" fill="#000">14</text>
<line x1="364.6" y1="817.6" x2="364.6" y2="822.6" stroke="#000" stroke-width="1.8" stroke-linecap="butt"/>
<text x="364.6" y="832.9" font-size="10.5" text-anchor="middle" font-weight="normal" fill="#000">21</text>
<line x1="382.20000000000005" y1="817.6" x2="382.20000000000005" y2="822.6" stroke="#000" stroke-width="1.8" stroke-linecap="butt"/>
<text x="382.20000000000005" y="832.9" font-size="10.5" text-anchor="middle" font-weight="normal" fill="#000">28</text>
<line x1="399.8" y1="817.6" x2="399.8" y2="822.6" stroke="#000" stroke-width="1.8" stroke-linecap="butt"/>
<text x="399.8" y="832.9" font-size="10.5" text-anchor="middle" font-weight="normal" fill="#000">35</text>
<line x1="417.40000000000003" y1="817.6" x2="417.40000000000003" y2="822.6" stroke="#000" stroke-width="1.8" stroke-linecap="butt"/>
<text x="417.40000000000003" y="832.9" font-size="10.5" text-anchor="middle" font-weight="normal" fill="#000">42</text>
<line x1="435.0" y1="817.6" x2="435.0" y2="822.6" stroke="#000" stroke-width="1.8" stroke-linecap="butt"/>
<line x1="452.6" y1="817.6" x2="452.6" y2="822.6" stroke="#000" stroke-width="1.8" stroke-linecap="butt"/>
<text x="381.70000000000005" y="848.5" font-size="12" text-anchor="middle" font-weight="normal" fill="#000">Days post-BMT</text>
<line x1="311.8" y1="720.6" x2="311.8" y2="733.3" stroke="#000" stroke-width="1.5" stroke-linecap="butt"/>
<line x1="308.6" y1="720.6" x2="315.0" y2="720.6" stroke="#000" stroke-width="1.5" stroke-linecap="butt"/>
<rect x="306.8" y="733.3" width="10" height="84.30000000000007" fill="#d9d9d9" stroke="#000" stroke-width="1.5"/>
<line x1="329.40000000000003" y1="762" x2="329.40000000000003" y2="772.6" stroke="#000" stroke-width="1.5" stroke-linecap="butt"/>
<line x1="326.20000000000005" y1="762" x2="332.6" y2="762" stroke="#000" stroke-width="1.5" stroke-linecap="butt"/>
<rect x="324.40000000000003" y="772.6" width="10" height="45.0" fill="#d9d9d9" stroke="#000" stroke-width="1.5"/>
<line x1="347.0" y1="808.4" x2="347.0" y2="810.9" stroke="#000" stroke-width="1.5" stroke-linecap="butt"/>
<line x1="343.8" y1="808.4" x2="350.2" y2="808.4" stroke="#000" stroke-width="1.5" stroke-linecap="butt"/>
<rect x="342.0" y="810.9" width="10" height="6.7000000000000455" fill="#d9d9d9" stroke="#000" stroke-width="1.5"/>
<text x="553.5" y="658" font-size="16" text-anchor="start" font-weight="normal" fill="#000">BM + T cells + Tregs</text>
<line x1="522.6" y1="690.9" x2="522.6" y2="818.6" stroke="#000" stroke-width="1.8" stroke-linecap="butt"/>
<line x1="517.6" y1="817.6" x2="522.6" y2="817.6" stroke="#000" stroke-width="1.8" stroke-linecap="butt"/>
<text x="516.1" y="821.3000000000001" font-size="10.5" text-anchor="end" font-weight="normal" fill="#000">0</text>
<line x1="517.6" y1="785.925" x2="522.6" y2="785.925" stroke="#000" stroke-width="1.8" stroke-linecap="butt"/>
<text x="516.1" y="789.625" font-size="10.5" text-anchor="end" font-weight="normal" fill="#000">20</text>
<line x1="517.6" y1="754.25" x2="522.6" y2="754.25" stroke="#000" stroke-width="1.8" stroke-linecap="butt"/>
<text x="516.1" y="757.95" font-size="10.5" text-anchor="end" font-weight="normal" fill="#000">40</text>
<line x1="517.6" y1="722.575" x2="522.6" y2="722.575" stroke="#000" stroke-width="1.8" stroke-linecap="butt"/>
<text x="516.1" y="726.2750000000001" font-size="10.5" text-anchor="end" font-weight="normal" fill="#000">60</text>
<line x1="517.6" y1="690.9" x2="522.6" y2="690.9" stroke="#000" stroke-width="1.8" stroke-linecap="butt"/>
<text x="516.1" y="694.6" font-size="10.5" text-anchor="end" font-weight="normal" fill="#000">80</text>
<line x1="521.7" y1="817.6" x2="686.6" y2="817.6" stroke="#000" stroke-width="1.8" stroke-linecap="butt"/>
<line x1="533.6" y1="817.6" x2="533.6" y2="822.6" stroke="#000" stroke-width="1.8" stroke-linecap="butt"/>
<text x="533.6" y="832.9" font-size="10.5" text-anchor="middle" font-weight="normal" fill="#000">0</text>
<line x1="551.2" y1="817.6" x2="551.2" y2="822.6" stroke="#000" stroke-width="1.8" stroke-linecap="butt"/>
<text x="551.2" y="832.9" font-size="10.5" text-anchor="middle" font-weight="normal" fill="#000">7</text>
<line x1="568.8000000000001" y1="817.6" x2="568.8000000000001" y2="822.6" stroke="#000" stroke-width="1.8" stroke-linecap="butt"/>
<text x="568.8000000000001" y="832.9" font-size="10.5" text-anchor="middle" font-weight="normal" fill="#000">14</text>
<line x1="586.4" y1="817.6" x2="586.4" y2="822.6" stroke="#000" stroke-width="1.8" stroke-linecap="butt"/>
<text x="586.4" y="832.9" font-size="10.5" text-anchor="middle" font-weight="normal" fill="#000">21</text>
<line x1="604.0" y1="817.6" x2="604.0" y2="822.6" stroke="#000" stroke-width="1.8" stroke-linecap="butt"/>
<text x="604.0" y="832.9" font-size="10.5" text-anchor="middle" font-weight="normal" fill="#000">28</text>
<line x1="621.6" y1="817.6" x2="621.6" y2="822.6" stroke="#000" stroke-width="1.8" stroke-linecap="butt"/>
<text x="621.6" y="832.9" font-size="10.5" text-anchor="middle" font-weight="normal" fill="#000">35</text>
<line x1="639.2" y1="817.6" x2="639.2" y2="822.6" stroke="#000" stroke-width="1.8" stroke-linecap="butt"/>
<text x="639.2" y="832.9" font-size="10.5" text-anchor="middle" font-weight="normal" fill="#000">42</text>
<line x1="656.8000000000001" y1="817.6" x2="656.8000000000001" y2="822.6" stroke="#000" stroke-width="1.8" stroke-linecap="butt"/>
<text x="656.8000000000001" y="832.9" font-size="10.5" text-anchor="middle" font-weight="normal" fill="#000">71</text>
<line x1="674.4000000000001" y1="817.6" x2="674.4000000000001" y2="822.6" stroke="#000" stroke-width="1.8" stroke-linecap="butt"/>
<text x="674.4000000000001" y="832.9" font-size="10.5" text-anchor="middle" font-weight="normal" fill="#000">88</text>
<text x="603.5" y="848.5" font-size="12" text-anchor="middle" font-weight="normal" fill="#000">Days post-BMT</text>
<line x1="533.6" y1="690.2" x2="533.6" y2="704.7" stroke="#000" stroke-width="1.5" stroke-linecap="butt"/>
<rect x="528.6" y="704.7" width="10" height="112.89999999999998" fill="#d9d9d9" stroke="#000" stroke-width="1.5"/>
<line x1="551.2" y1="725" x2="551.2" y2="738.7" stroke="#000" stroke-width="1.5" stroke-linecap="butt"/>
<line x1="548.0" y1="725" x2="554.4000000000001" y2="725" stroke="#000" stroke-width="1.5" stroke-linecap="butt"/>
<rect x="546.2" y="738.7" width="10" height="78.89999999999998" fill="#d9d9d9" stroke="#000" stroke-width="1.5"/>
<line x1="568.8000000000001" y1="770.8" x2="568.8000000000001" y2="775.6" stroke="#000" stroke-width="1.5" stroke-linecap="butt"/>
<line x1="565.6" y1="770.8" x2="572.0000000000001" y2="770.8" stroke="#000" stroke-width="1.5" stroke-linecap="butt"/>
<rect x="563.8000000000001" y="775.6" width="10" height="42.0" fill="#d9d9d9" stroke="#000" stroke-width="1.5"/>
<rect x="563.8000000000001" y="810.9" width="10" height="6.7000000000000455" fill="#454545" stroke="#000" stroke-width="1.5"/>
<line x1="586.4" y1="796.4" x2="586.4" y2="798.8" stroke="#000" stroke-width="1.5" stroke-linecap="butt"/>
<line x1="583.1999999999999" y1="796.4" x2="589.6" y2="796.4" stroke="#000" stroke-width="1.5" stroke-linecap="butt"/>
<rect x="581.4" y="798.8" width="10" height="18.800000000000068" fill="#d9d9d9" stroke="#000" stroke-width="1.5"/>
<line x1="586.4" y1="809" x2="586.4" y2="810" stroke="#000" stroke-width="1.5" stroke-linecap="butt"/>
<line x1="583.1999999999999" y1="809" x2="589.6" y2="809" stroke="#000" stroke-width="1.5" stroke-linecap="butt"/>
<rect x="581.4" y="810" width="10" height="7.600000000000023" fill="#454545" stroke="#000" stroke-width="1.5"/>
<line x1="604.0" y1="800.6" x2="604.0" y2="802.5" stroke="#000" stroke-width="1.5" stroke-linecap="butt"/>
<line x1="600.8" y1="800.6" x2="607.2" y2="800.6" stroke="#000" stroke-width="1.5" stroke-linecap="butt"/>
<rect x="599.0" y="802.5" width="10" height="15.100000000000023" fill="#d9d9d9" stroke="#000" stroke-width="1.5"/>
<rect x="599.0" y="806.2" width="10" height="11.399999999999977" fill="#454545" stroke="#000" stroke-width="1.5"/>
<line x1="621.6" y1="800.6" x2="621.6" y2="802.5" stroke="#000" stroke-width="1.5" stroke-linecap="butt"/>
<line x1="618.4" y1="800.6" x2="624.8000000000001" y2="800.6" stroke="#000" stroke-width="1.5" stroke-linecap="butt"/>
<rect x="616.6" y="802.5" width="10" height="15.100000000000023" fill="#d9d9d9" stroke="#000" stroke-width="1.5"/>
<rect x="616.6" y="806.2" width="10" height="11.399999999999977" fill="#454545" stroke="#000" stroke-width="1.5"/>
<line x1="639.2" y1="800.6" x2="639.2" y2="802.5" stroke="#000" stroke-width="1.5" stroke-linecap="butt"/>
<line x1="636.0" y1="800.6" x2="642.4000000000001" y2="800.6" stroke="#000" stroke-width="1.5" stroke-linecap="butt"/>
<rect x="634.2" y="802.5" width="10" height="15.100000000000023" fill="#d9d9d9" stroke="#000" stroke-width="1.5"/>
<rect x="634.2" y="806.2" width="10" height="11.399999999999977" fill="#454545" stroke="#000" stroke-width="1.5"/>
<line x1="656.8000000000001" y1="797.9" x2="656.8000000000001" y2="803.4" stroke="#000" stroke-width="1.5" stroke-linecap="butt"/>
<line x1="653.6" y1="797.9" x2="660.0000000000001" y2="797.9" stroke="#000" stroke-width="1.5" stroke-linecap="butt"/>
<rect x="651.8000000000001" y="803.4" width="10" height="14.200000000000045" fill="#d9d9d9" stroke="#000" stroke-width="1.5"/>
<rect x="651.8000000000001" y="803.4" width="10" height="14.200000000000045" fill="#454545" stroke="#000" stroke-width="1.5"/>
<line x1="674.4000000000001" y1="769.8" x2="674.4000000000001" y2="783.4" stroke="#000" stroke-width="1.5" stroke-linecap="butt"/>
<line x1="671.2" y1="769.8" x2="677.6000000000001" y2="769.8" stroke="#000" stroke-width="1.5" stroke-linecap="butt"/>
<rect x="669.4000000000001" y="783.4" width="10" height="34.200000000000045" fill="#454545" stroke="#000" stroke-width="1.5"/>
<rect x="625.2" y="695" width="13" height="6.2" fill="#d9d9d9" stroke="#000" stroke-width="1.4"/>
<rect x="625.2" y="709.5" width="13" height="6.5" fill="#454545" stroke="#000" stroke-width="1.4"/>
<text x="646.5" y="701.5" font-size="10" text-anchor="start" font-weight="normal" fill="#000">IgG2a-a</text>
<text x="646.5" y="716.1" font-size="10" text-anchor="start" font-weight="normal" fill="#000">IgG2a-b</text>
</svg>
</body></html>
